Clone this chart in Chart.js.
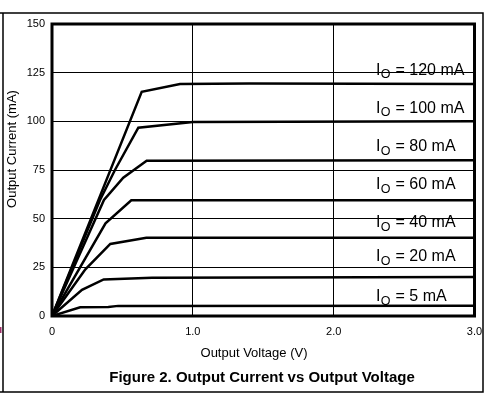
<!DOCTYPE html>
<html><head><meta charset="utf-8">
<script src="https://cdn.jsdelivr.net/npm/chart.js@4.4.1/dist/chart.umd.min.js"></script>
<style>html,body{margin:0;padding:0;background:#fff;}canvas{display:block;}</style>
</head><body>
<canvas id="c" width="496" height="407"></canvas>
<script>
// ---- data ----
const xTickLabels = ['0', '1.0', '2.0', '3.0'];
const yTickLabels = ['0', '25', '50', '75', '100', '125', '150'];
const seriesNames = ['120 mA', '100 mA', '80 mA', '60 mA', '40 mA', '20 mA', '5 mA'];

const volts120 = [0, 0.637, 0.909, 1.4, 3.0];
const amps120  = [0, 115.2, 119.2, 119.4, 119.2];
const volts100 = [0, 0.341, 0.447, 0.613, 1.0, 3.0];
const amps100  = [0, 59.6, 75, 96.7, 99.7, 100];
const volts80  = [0, 0.369, 0.506, 0.672, 3.0];
const amps80   = [0, 59.6, 71, 79.8, 80];
const volts60  = [0, 0.38, 0.563, 3.0];
const amps60   = [0, 47.6, 59.4, 59.5];
const volts40  = [0, 0.237, 0.414, 0.67, 3.0];
const amps40   = [0, 24, 37, 40.2, 40.2];
const volts20  = [0, 0.213, 0.367, 0.71, 3.0];
const amps20   = [0, 13.4, 18.8, 19.7, 20];
const volts5   = [0, 0.2, 0.4, 0.47, 3.0];
const amps5    = [0, 4.5, 4.6, 5.2, 5.3];

const seriesVolts = [volts120, volts100, volts80, volts60, volts40, volts20, volts5];
const seriesAmps  = [amps120, amps100, amps80, amps60, amps40, amps20, amps5];

// label anchors (data coordinates)
const labelVolt = 2.30;
const labelAmps = [126.3, 106.8, 86.8, 67.3, 47.8, 30.3, 9.8];

const FONT = '"Liberation Sans", Arial, Helvetica, sans-serif';

const datasets = seriesNames.map((n, i) => ({
  label: 'IO = ' + n,
  data: seriesVolts[i].map((v, k) => ({x: v, y: seriesAmps[i][k]})),
  showLine: true,
  borderColor: '#000',
  backgroundColor: '#000',
  borderWidth: 2.5,
  pointRadius: 0,
  tension: 0,
  fill: false
}));

const textPlugin = {
  id: 'texts',
  beforeDraw(chart) {
    const ctx = chart.ctx, xs = chart.scales.x, ys = chart.scales.y;
    ctx.save();
    ctx.fillStyle = '#000';
    ctx.textBaseline = 'middle';
    ctx.textAlign = 'left';
    seriesNames.forEach((n, i) => {
      const px = xs.getPixelForValue(labelVolt);
      const py = ys.getPixelForValue(labelAmps[i]);
      ctx.font = '16px ' + FONT;
      ctx.fillText('I', px, py);
      const w1 = ctx.measureText('I').width;
      ctx.font = '12.5px ' + FONT;
      ctx.fillText('O', px + w1 + 0.5, py + 4.5);
      const w2 = ctx.measureText('O').width;
      ctx.font = '16px ' + FONT;
      ctx.fillText(' = ' + n, px + w1 + w2 + 1, py);
    });
    ctx.restore();
  },
  afterDatasetsDraw(chart) {
    const ctx = chart.ctx, a = chart.chartArea;
    ctx.save();
    ctx.strokeStyle = '#000';
    ctx.lineWidth = 3;
    ctx.strokeRect(a.left, a.top, a.right - a.left, a.bottom - a.top);
    ctx.restore();
  },
  afterDraw(chart) {
    const ctx = chart.ctx;
    ctx.save();
    // outer frame
    ctx.strokeStyle = '#000';
    ctx.lineWidth = 1.5;
    ctx.beginPath();
    ctx.moveTo(0, 13); ctx.lineTo(483, 13); ctx.lineTo(483, 392); ctx.lineTo(0, 392);
    ctx.moveTo(3, 13); ctx.lineTo(3, 392);
    ctx.stroke();
    ctx.fillStyle = '#a0306a';
    ctx.fillRect(0, 327, 1.5, 6);
    // axis titles
    ctx.fillStyle = '#000';
    ctx.textAlign = 'center';
    ctx.textBaseline = 'middle';
    ctx.font = '13px ' + FONT;
    ctx.fillText('Output Voltage (V)', 254, 353);
    ctx.save();
    ctx.translate(12, 149);
    ctx.rotate(-Math.PI / 2);
    ctx.fillText('Output Current (mA)', 0, 0);
    ctx.restore();
    ctx.font = 'bold 15px ' + FONT;
    ctx.fillText('Figure 2. Output Current vs Output Voltage', 262, 378);
    ctx.restore();
  }
};

new Chart(document.getElementById('c'), {
  type: 'scatter',
  data: { datasets },
  options: {
    responsive: false,
    animation: false,
    devicePixelRatio: 1,
    layout: { padding: { left: 0, top: 24, right: 21.5, bottom: 0 } },
    plugins: { legend: { display: false }, tooltip: { enabled: false }, title: { display: false } },
    scales: {
      x: {
        type: 'linear', min: 0, max: 3,
        afterFit(s) { s.height = 91; },
        afterBuildTicks(s) { s.ticks = xTickLabels.map(t => ({ value: parseFloat(t) })); },
        ticks: {
          color: '#000', font: { family: FONT, size: 11 }, padding: 9, maxRotation: 0,
          callback: (v, i) => xTickLabels[i]
        },
        grid: { color: '#000', lineWidth: 1, drawTicks: false },
        border: { display: false }
      },
      y: {
        type: 'linear', min: 0, max: 150,
        afterFit(s) { s.width = 52; },
        afterBuildTicks(s) { s.ticks = yTickLabels.map(t => ({ value: parseFloat(t) })); },
        ticks: {
          color: '#000', font: { family: FONT, size: 11 }, padding: 7,
          callback: (v, i) => yTickLabels[i]
        },
        grid: { color: '#000', lineWidth: 1, drawTicks: false },
        border: { display: false }
      }
    }
  },
  plugins: [textPlugin]
});
</script>
</body></html>
